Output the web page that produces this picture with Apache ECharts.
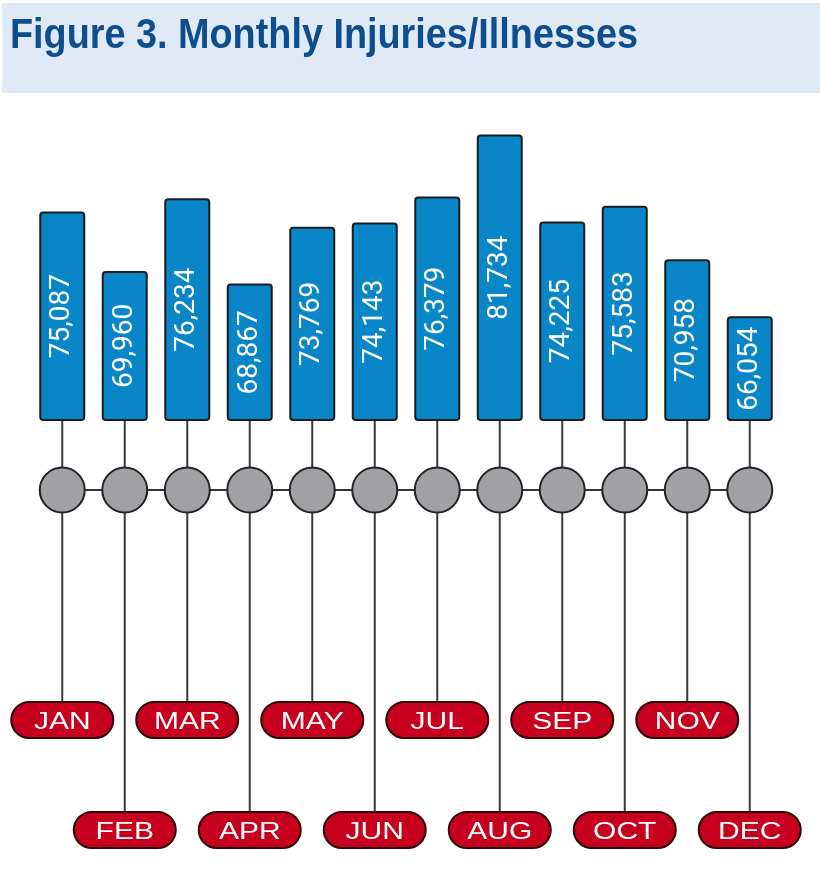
<!DOCTYPE html>
<html>
<head>
    <meta charset="utf-8">
    <title>Monthly Injuries/Illnesses</title>
    <script src="https://cdn.jsdelivr.net/npm/echarts@6/dist/echarts.min.js"></script>
    <style>
        body { margin: 0; background: #fff; }
    </style>
</head>
<body>
    <div id="main" style="width: 820px;height:878px;"></div>
    <script type="text/javascript">
        // data
        var months = ['JAN', 'FEB', 'MAR', 'APR', 'MAY', 'JUN', 'JUL', 'AUG', 'SEP', 'OCT', 'NOV', 'DEC'];
        var injuries = [75087, 69960, 76234, 68867, 73769, 74143, 76379, 81734, 74225, 75583, 70958, 66054];

        var myChart = echarts.init(document.getElementById('main'));

        function fmt(v) {
            return v.toString().replace(/\B(?=(\d{3})+(?!\d))/g, ',');
        }

        // timeline under the bars: stem, grey knob, red month pill
        function renderTimeline(params, api) {
            var i = api.value(0);
            var cs = params.coordSys;
            var baseY = cs.y + cs.height;
            var x = api.coord([i, 0])[0];
            var knobY = baseY + 70;
            var pillY = (i % 2 === 0) ? baseY + 300 : baseY + 410;
            var children = [];
            if (i < months.length - 1) {
                var nx = api.coord([i + 1, 0])[0];
                children.push({
                    type: 'line',
                    shape: { x1: x, y1: knobY, x2: nx, y2: knobY },
                    style: { stroke: '#333', lineWidth: 2 }
                });
            }
            children.push({
                type: 'line',
                shape: { x1: x, y1: baseY, x2: x, y2: pillY },
                style: { stroke: '#3a3a3a', lineWidth: 2 }
            });
            children.push({
                type: 'circle',
                shape: { cx: x, cy: knobY, r: 22.5 },
                style: { fill: '#a1a1a5', stroke: '#222', lineWidth: 2 }
            });
            children.push({
                type: 'rect',
                shape: { x: x - 51, y: pillY - 18, width: 102, height: 36, r: 18 },
                style: { fill: '#c6001d', stroke: '#2a0505', lineWidth: 2 }
            });
            children.push({
                type: 'text',
                x: x,
                y: pillY + 2,
                scaleX: 1.25,
                style: {
                    text: months[i],
                    fill: '#fff',
                    font: '24px "Liberation Sans", Arial, sans-serif',
                    align: 'center',
                    verticalAlign: 'middle'
                }
            });
            return { type: 'group', children: children };
        }

        option = {
            animation: false,
            backgroundColor: '#fff',
            graphic: [{
                type: 'rect',
                z: -1,
                shape: { x: 2, y: 3, width: 818, height: 90 },
                style: { fill: '#dfeaf6' }
            }, {
                type: 'text',
                x: 10,
                y: 36,
                scaleX: 0.9,
                style: {
                    text: 'Figure 3. Monthly Injuries/Illnesses',
                    fill: '#0f4e8e',
                    font: 'bold 42px "Liberation Sans Narrow", "Arial Narrow", sans-serif',
                    verticalAlign: 'middle'
                }
            }],
            grid: {
                left: 31,
                right: 39,
                top: 100,
                bottom: 458
            },
            xAxis: {
                type: 'category',
                data: months,
                show: false
            },
            yAxis: {
                type: 'value',
                min: 57100,
                max: 84700,
                show: false
            },
            series: [{
                name: 'Injuries/Illnesses',
                type: 'bar',
                data: injuries,
                barWidth: 46,
                itemStyle: {
                    color: '#0886c8',
                    borderColor: '#1c1c1c',
                    borderWidth: 2,
                    borderRadius: 3
                },
                label: {
                    show: true,
                    position: 'inside',
                    rotate: 90,
                    color: '#fff',
                    fontFamily: 'Roboto',
                    fontSize: 28,
                    formatter: function (p) { return fmt(p.value); }
                }
            }, {
                type: 'custom',
                renderItem: renderTimeline,
                data: months.map(function (m, i) { return [i, injuries[i]]; }),
                z: 1
            }]
        };

        myChart.setOption(option);
    </script>
</body>
</html>
